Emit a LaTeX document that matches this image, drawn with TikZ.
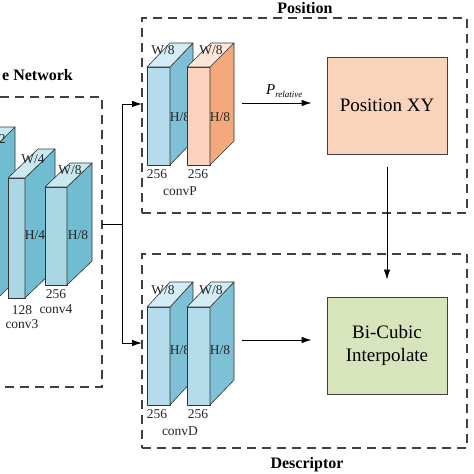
\documentclass[tikz,border=0pt]{standalone}
\usepackage{fontspec}
\setmainfont{Liberation Serif}
\usetikzlibrary{arrows.meta,calc}
\definecolor{netfront}{HTML}{A9D7E3}
\definecolor{netside}{HTML}{70BDD1}
\definecolor{nettop}{HTML}{C9E8F0}
\definecolor{bfront}{HTML}{B5DCEA}
\definecolor{bside}{HTML}{7EC1D6}
\definecolor{btop}{HTML}{D3ECF5}
\definecolor{ofront}{HTML}{FBD3BE}
\definecolor{oside}{HTML}{F4A97C}
\definecolor{otop}{HTML}{FCE6D8}
\definecolor{posfill}{HTML}{FAD3BD}
\definecolor{bicfill}{HTML}{D8E4BC}
\tikzset{
  frame/.style={draw=black!75,dash pattern=on 9pt off 6pt,line width=1.1pt,inner sep=0pt},
  arr/.style={-{Latex[length=10pt,width=6.5pt]},line width=0.9pt},
  lbl/.style={font=\fontsize{13.5}{13.5}\selectfont,inner sep=0pt,text=black!85},
  title/.style={font=\fontsize{16}{16}\selectfont\bfseries,inner sep=0pt},
  opbox/.style={draw=black!75,line width=0.9pt,minimum width=120pt,minimum height=97pt,
    align=center,inner sep=0pt,font=\fontsize{19}{23}\selectfont},
  face/.style={draw=black!80,line width=0.6pt,line join=round}
}
% block: x,y of front top-left, width, height, depth dx,dy, colours front/side/top
\newcommand{\blk}[9]{%
  \filldraw[face,fill=#7] (#1,#2) rectangle ++(#3,#4);
  \filldraw[face,fill=#8] (#1+#3,#2) -- ++(#5,-#6) -- ++(0,#4) -- ++(-#5,#6) -- cycle;
  \filldraw[face,fill=#9] (#1,#2) -- ++(#5,-#6) -- ++(#3,0) -- ++(-#5,#6) -- cycle;
}
\begin{document}
\begin{tikzpicture}[x=1pt,y=-1pt]
\clip (0,0) rectangle (474,474);
\fill[white] (0,0) rectangle (474,474);
% frames
\node[frame,minimum width=202pt,minimum height=290pt] (net) at (1,242) {};
\node[frame,minimum width=325pt,minimum height=195pt] (posbox) at (304.5,115.5) {};
\node[frame,minimum width=325pt,minimum height=194pt] (descbox) at (304.5,351) {};
\node[title,anchor=west] (nettitle) at (2,75) {e Network};
\node[title] (postitle) at (305,8) {Position};
\node[title] (desctitle) at (307,465) {Descriptor};
% network blocks
\blk{-40}{156}{26}{154}{29}{29}{netfront}{netside}{nettop}
\node[lbl] (w2) at (-6,139) {W/2};
\blk{8}{178}{17}{120}{30}{29}{netfront}{netside}{nettop}
\node[lbl] (w3) at (33,159) {W/4};
\node[lbl] (h3) at (35,235) {H/4};
\node[lbl] (c3a) at (22,310) {128};
\node[lbl] (c3b) at (22,324) {conv3};
\blk{45}{187}{22}{98}{25}{24}{netfront}{netside}{nettop}
\node[lbl] (w4) at (70,170) {W/8};
\node[lbl] (h4) at (78,235) {H/8};
\node[lbl] (c4a) at (56,294) {256};
\node[lbl] (c4b) at (56,309) {conv4};
% position branch
\blk{147}{67}{23}{98}{23}{24}{bfront}{bside}{btop}
\node[lbl] (wp1) at (163,50) {W/8};
\node[lbl] (hp1) at (180,117) {H/8};
\blk{187}{67}{23}{98}{24}{24}{ofront}{oside}{otop}
\node[lbl] (wp2) at (211,50) {W/8};
\node[lbl] (hp2) at (220,117) {H/8};
\node[lbl] (np1) at (157,174) {256};
\node[lbl] (np2) at (198,174) {256};
\node[lbl] (cp) at (180,191) {convP};
% descriptor branch
\blk{147}{307}{23}{98}{23}{25}{bfront}{bside}{btop}
\node[lbl] (wd1) at (163,290) {W/8};
\node[lbl] (hd1) at (180,350) {H/8};
\blk{187}{307}{23}{98}{24}{25}{bfront}{bside}{btop}
\node[lbl] (wd2) at (211,290) {W/8};
\node[lbl] (hd2) at (220,350) {H/8};
\node[lbl] (nd1) at (157,414) {256};
\node[lbl] (nd2) at (198,414) {256};
\node[lbl] (cd) at (180,431) {convD};
% operations
\node[opbox,fill=posfill] (posxy) at (387,105.5) {Position XY};
\node[opbox,fill=bicfill] (bicubic) at (387,345.5) {Bi-Cubic\\Interpolate};
% connectors
\coordinate (netout) at (102,224);
\coordinate (split) at (122,224);
\coordinate (posin) at (142,104);
\coordinate (descin) at (142,343);
\coordinate (prel) at (242,103);
\coordinate (dstart) at (242,340);
\draw[line width=0.9pt] (netout) -- (split);
\draw[arr] (split) |- (posin);
\draw[arr] (split) |- (descin);
\draw[arr,shorten >=15pt] (prel) -- (prel -| posxy.west)
  node[midway,above=5pt,inner sep=0pt,font=\fontsize{15}{15}\selectfont] (plabel)
  {\textit{P}\raisebox{-3pt}{\fontsize{9}{9}\selectfont\textit{relative}}};
\draw[arr,shorten >=15pt] (dstart) -- (dstart -| bicubic.west);
\draw[arr,shorten <=13pt,shorten >=17pt] (posxy.south) -- (bicubic.north);
\end{tikzpicture}
\end{document}
